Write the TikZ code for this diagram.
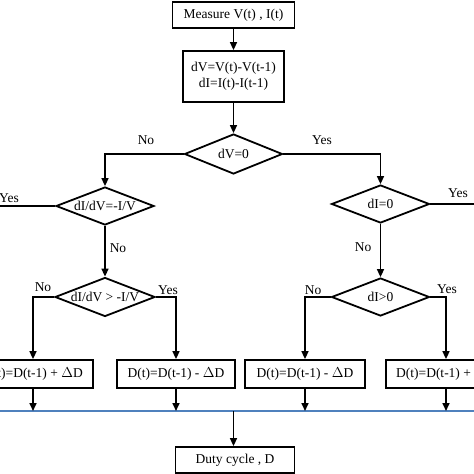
\documentclass[tikz,border=0pt]{standalone}
\usepackage{fontspec}
\setmainfont{Liberation Serif}
\usetikzlibrary{arrows.meta,shapes.geometric}
\definecolor{busblue}{RGB}{79,129,189}
\tikzset{
  every node/.style={font=\fontsize{13.5}{16}\selectfont},
  procbox/.style={draw, line width=1.8pt, inner sep=0pt, align=center},
  decision/.style={draw, diamond, line width=1.8pt, inner sep=0pt},
  conn/.style={line width=1.6pt},
  arr/.style={conn, -{Triangle[length=8pt,width=7pt]}},
  lbl/.style={inner sep=0pt}
}
\begin{document}
\begin{tikzpicture}[x=1pt,y=-1pt]
\useasboundingbox (0,0) rectangle (474,474);
\clip (0,0) rectangle (474,474);
\fill[white] (0,0) rectangle (474,474);
% process boxes
\node[procbox, minimum width=122pt, minimum height=26pt] (meas) at (233.5,15) {Measure V(t) , I(t)};
\node[procbox, minimum width=101pt, minimum height=51pt] (calc) at (233.5,76.5) {dV=V(t)-V(t-1)\\dI=I(t)-I(t-1)};
% decisions
\node[decision, minimum width=98pt, minimum height=40pt] (dv) at (233.5,154) {\makebox[0pt]{dV=0}};
\node[decision, minimum width=98pt, minimum height=38pt] (inc) at (105,206) {\makebox[0pt]{dI/dV=-I/V}};
\node[decision, minimum width=98pt, minimum height=38pt] (di) at (380.5,204) {\makebox[0pt]{dI=0}};
\node[decision, minimum width=100pt, minimum height=39pt] (gt) at (105,297) {\makebox[0pt]{dI/dV > -I/V}};
\node[decision, minimum width=98pt, minimum height=38pt] (dig) at (380.5,297) {\makebox[0pt]{dI>0}};
% update boxes
\node[procbox, minimum width=120pt, minimum height=28pt] (b1) at (33,374) {D(t)=D(t-1) + $\Delta$D};
\node[procbox, minimum width=118pt, minimum height=28pt] (b2) at (176,374) {D(t)=D(t-1) - $\Delta$D};
\node[procbox, minimum width=120pt, minimum height=28pt] (b3) at (305,374) {D(t)=D(t-1) - $\Delta$D};
\node[procbox, minimum width=120pt, minimum height=28pt] (b4) at (446,374) {D(t)=D(t-1) + $\Delta$D};
\node[procbox, minimum width=119pt, minimum height=26pt] (duty) at (235,460) {Duty cycle , D};
% bus
\coordinate (busL) at (0,411);
\coordinate (busR) at (474,411);
\coordinate (busC) at (233.5,411);
\coordinate (leftEnd) at (0,206);
\coordinate (rightEnd) at (474,204);
\draw[busblue, line width=1.8pt] (busL) -- (busR);
% connectors
\draw[arr] (meas) -- (calc);
\draw[arr] (calc) -- (dv);
\draw[arr] (dv.west) -| (inc.north);
\draw[arr] (dv.east) -| (di.north);
\draw[conn] (inc.west) -- (leftEnd);
\draw[conn] (di.east) -- (rightEnd);
\draw[arr] (inc.south) -- (gt.north);
\draw[arr] (di.south) -- (dig.north);
\draw[arr] (gt.west) -| (b1.north);
\draw[arr] (gt.east) -| (b2.north);
\draw[arr] (dig.west) -| (b3.north);
\draw[arr] (dig.east) -| (b4.north);
\draw[arr] (b1.south) -- (b1.south |- busL);
\draw[arr] (b2.south) -- (b2.south |- busL);
\draw[arr] (b3.south) -- (b3.south |- busL);
\draw[arr] (b4.south) -- (b4.south |- busL);
\draw[arr] (busC) -- (busC |- duty.north);
% labels
\node[lbl] (l1) at (146,140) {No};
\node[lbl] (l2) at (322,140) {Yes};
\node[lbl] (l3) at (9,198) {Yes};
\node[lbl] (l4) at (458,193) {Yes};
\node[lbl] (l5) at (118,248) {No};
\node[lbl] (l6) at (363,247) {No};
\node[lbl] (l7) at (43,287) {No};
\node[lbl] (l8) at (168,290) {Yes};
\node[lbl] (l9) at (313,290) {No};
\node[lbl] (l10) at (447,289) {Yes};
\end{tikzpicture}
\end{document}
